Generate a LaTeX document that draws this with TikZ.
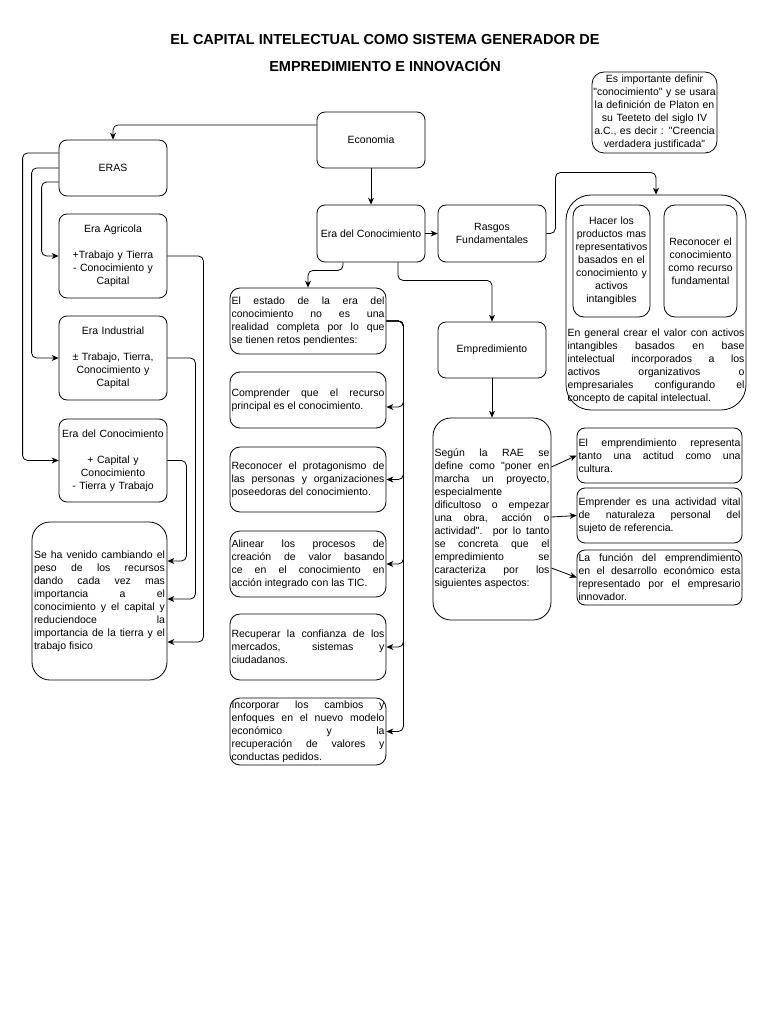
\documentclass[tikz,border=0pt]{standalone}
\usepackage{fontspec}
\setmainfont{Liberation Sans}[Ligatures=TeXOff]
\usetikzlibrary{arrows.meta}

\newcommand\singuiones{\hyphenpenalty=10000 \tolerance=9999\relax}

\begin{document}
\begin{tikzpicture}[x=1pt,y=-1pt,
  caja/.style={draw, line width=0.8pt, rounded corners=8pt, align=center, inner sep=1pt,
    font=\fontsize{10.5}{13}\selectfont},
  cajaj/.style={caja, align=justify, font=\fontsize{10.5}{13}\selectfont\singuiones},
  titulo/.style={font=\bfseries\fontsize{14.5}{17}\selectfont},
  flecha/.style={-{Stealth[length=7pt,width=6pt]}, line width=0.8pt, rounded corners=5pt}]

  \fill[white] (0,0) rectangle (768,1024);
  \useasboundingbox (0,0) rectangle (768,1024);

  \node[titulo] (titulo1) at (385,40) {EL CAPITAL INTELECTUAL COMO SISTEMA GENERADOR DE};
  \node[titulo] (titulo2) at (385,65) {EMPREDIMIENTO E INNOVACIÓN};

  % columna izquierda
  \node[caja, minimum width=108pt, minimum height=56pt] (eco) at (371,140) {Economia};
  \node[caja, minimum width=108pt, minimum height=56pt] (eras) at (113,168) {ERAS};
  \node[caja, minimum width=108pt, minimum height=84pt, text width=106pt] (agri) at (113,256)
    {Era Agricola\\[13pt]+Trabajo y Tierra\\- Conocimiento y\\Capital};
  \node[caja, minimum width=108pt, minimum height=84pt, text width=106pt] (indu) at (113,358)
    {Era Industrial\\[13pt]± Trabajo, Tierra,\\Conocimiento y\\Capital};
  \node[caja, minimum width=108pt, minimum height=83pt, text width=106pt] (conL) at (113,460.5)
    {Era del Conocimiento\\[13pt]+ Capital y\\Conocimiento\\- Tierra y Trabajo};
  \node[cajaj, rounded corners=18pt, minimum width=135pt, minimum height=158pt, text width=131pt] (cambio) at (99.5,601)
    {Se ha venido cambiando el\linebreak peso de los recursos\linebreak dando cada vez mas\linebreak
     importancia a el\linebreak conocimiento y el capital y\linebreak reduciendoce la\linebreak
     importancia de la tierra y el\linebreak trabajo fisico};

  % columna central
  \node[caja, minimum width=108pt, minimum height=57pt] (conM) at (371,233.5) {Era del Conocimiento};
  \node[cajaj, rounded corners=10pt, minimum width=156pt, minimum height=66pt, text width=153pt] (estado) at (308,321)
    {El estado de la era del\linebreak conocimiento no es una\linebreak realidad completa por lo que\linebreak
     se tienen retos pendientes:};
  \node[cajaj, rounded corners=10pt, minimum width=156pt, minimum height=56pt, text width=153pt] (compr) at (308,400)
    {Comprender que el recurso\linebreak principal es el conocimiento.};
  \node[cajaj, rounded corners=10pt, minimum width=156pt, minimum height=65pt, text width=153pt] (prota) at (308,479.5)
    {Reconocer el protagonismo de\linebreak las personas y organizaciones\linebreak poseedoras del conocimiento.};
  \node[cajaj, rounded corners=10pt, minimum width=156pt, minimum height=66pt, text width=153pt] (alinear) at (308,564)
    {Alinear los procesos de\linebreak creación de valor basando\linebreak ce en el conocimiento en\linebreak
     acción integrado con las TIC.};
  \node[cajaj, rounded corners=10pt, minimum width=156pt, minimum height=66pt, text width=153pt] (recup) at (308,647)
    {Recuperar la confianza de los\linebreak mercados, sistemas y\linebreak ciudadanos.};
  \node[cajaj, rounded corners=10pt, minimum width=156pt, minimum height=67pt, text width=153pt] (incorp) at (308,731.5)
    {Incorporar los cambios y\linebreak enfoques en el nuevo modelo\linebreak económico y la\linebreak
     recuperación de valores y\linebreak conductas pedidos.};

  % columna derecha
  \node[caja, minimum width=108pt, minimum height=57pt] (rasgos) at (492,233.5) {Rasgos\\Fundamentales};
  \node[caja, minimum width=108pt, minimum height=56pt] (empre) at (492,350) {Empredimiento};
  \node[cajaj, rounded corners=18pt, minimum width=118pt, minimum height=202pt, text width=115pt] (segun) at (492,519)
    {Según la RAE se\linebreak define como "poner en\linebreak marcha un proyecto,\linebreak especialmente\linebreak
     dificultoso o empezar\linebreak una obra, acción o\linebreak actividad". por lo tanto\linebreak
     se concreta que el\linebreak empredimiento se\linebreak caracteriza por los\linebreak siguientes aspectos:};
  \node[cajaj, minimum width=165pt, minimum height=55pt, text width=162pt] (repr) at (659.5,455.5)
    {El emprendimiento representa\linebreak tanto una actitud como una\linebreak cultura.};
  \node[cajaj, minimum width=165pt, minimum height=55pt, text width=162pt] (vital) at (659.5,515.5)
    {Emprender es una actividad vital\linebreak de naturaleza personal del\linebreak sujeto de referencia.};
  \node[cajaj, minimum width=165pt, minimum height=55pt, text width=162pt] (funcion) at (659.5,577.5)
    {La función del emprendimiento\linebreak en el desarrollo económico esta\linebreak
     representado por el empresario\linebreak innovador.};

  \node[caja, rounded corners=12pt, minimum width=125pt, minimum height=81pt, text width=123pt] (platon) at (654.5,112.5)
    {Es importante definir\\"conocimiento" y se usara\\la definición de Platon en\\su Teeteto del siglo IV\\
     a.C., es decir : "Creencia\\verdadera justificada"};

  \node[caja, rounded corners=25pt, minimum width=180pt, minimum height=215pt] (grande) at (656,302.5) {};
  \node[caja, rounded corners=11pt, minimum width=77pt, minimum height=112pt, text width=75pt] (hacer) at (611.5,261)
    {Hacer los\\productos mas\\representativos\\basados en el\\conocimiento y\\activos\\intangibles};
  \node[caja, rounded corners=11pt, minimum width=73pt, minimum height=112pt, text width=71pt] (recon) at (700.5,261)
    {Reconocer el\\conocimiento\\como recurso\\fundamental};
  \node[cajaj, draw=none, text width=177pt] (general) at (656,366)
    {En general crear el valor con activos\linebreak intangibles basados en base\linebreak
     intelectual incorporados a los\linebreak activos organizativos o\linebreak
     empresariales configurando el\linebreak concepto de capital intelectual.};

  % conectores
  \draw[flecha] ([yshift=15pt]eco.west) -| (eras.north);
  \draw[flecha] ([yshift=15pt]eras.west) -| ([xshift=-36pt]conL.west) -- (conL.west);
  \draw[flecha] (eras.west) -| ([xshift=-27pt]indu.west) -- (indu.west);
  \draw[flecha] ([yshift=-14pt]eras.west) -| ([xshift=-17pt]agri.west) -- (agri.west);
  \draw[flecha] (agri.east) -- ++(36pt,0) |- ([yshift=-41pt]cambio.east);
  \draw[flecha] (indu.east) -- ++(28pt,0) |- ([yshift=2pt]cambio.east);
  \draw[flecha] (conL.east) -- ++(19pt,0) |- ([yshift=40pt]cambio.east);

  \draw[flecha] (eco) -- (conM);
  \draw[flecha] (conM) -- (rasgos);
  \draw[flecha] ([xshift=-28pt]conM.south) -- ++(0,-8pt) -| (estado.north);
  \draw[flecha] ([xshift=27pt]conM.south) -- ++(0,-18pt) -| (empre.north);
  \draw[flecha] (rasgos.east) -- ++(9pt,0) -- ++(0,61pt) -| (grande.north);
  \draw[flecha] (empre) -- (segun);
  \draw[flecha] ([yshift=52pt]segun.east) -- (repr.west);
  \draw[flecha] ([yshift=2pt]segun.east) -- (vital.west);
  \draw[flecha] ([yshift=-49pt]segun.east) -- (funcion.west);
  \foreach \destino/\dy in {compr/-7pt, prota/0pt, alinear/0pt, recup/0pt, incorp/0pt}
    \draw[flecha] (estado.east) -- ++(17pt,0) |- ([yshift=\dy]\destino.east);
\end{tikzpicture}
\end{document}
